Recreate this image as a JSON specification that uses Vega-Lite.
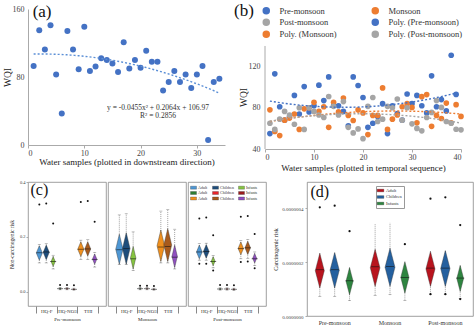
{
  "$schema": "https://vega.github.io/schema/vega-lite/v6.json",
  "background": "white",
  "padding": {"left": 2, "top": 1, "right": 2, "bottom": 1},
  "config": {
    "font": "Liberation Serif",
    "view": {"stroke": "#888888", "strokeWidth": 0.8},
    "axis": {"labelFont": "Liberation Serif", "titleFont": "Liberation Serif", "titleFontWeight": "normal", "labelColor": "#444444", "titleColor": "#222222", "domainColor": "#aaaaaa", "tickColor": "#aaaaaa", "grid": false, "labelOverlap": false},
    "legend": {"labelFont": "Liberation Serif", "labelColor": "#333333"}
  },
  "datasets": {
    "cdata": [
      {"k": "v", "season": "Pre-monsoon", "index": "HQ-F", "group": "Adult", "key": "HQ-F Adult", "mid": 0.1415, "body": 0.053, "med": 0.142, "wlo": 0.105, "whi": 0.172},
      {"k": "v", "season": "Pre-monsoon", "index": "HQ-F", "group": "Children", "key": "HQ-F Children", "mid": 0.1435, "body": 0.053, "med": 0.145, "wlo": 0.105, "whi": 0.175},
      {"k": "v", "season": "Pre-monsoon", "index": "HQ-F", "group": "Infants", "key": "HQ-F Infants", "mid": 0.11, "body": 0.036, "med": 0.11, "wlo": 0.083, "whi": 0.133},
      {"k": "v", "season": "Pre-monsoon", "index": "HQ-NO3", "group": "Adult", "key": "HQ-NO3 Adult", "mid": 0.011, "body": 0.008, "med": 0.011, "wlo": 0.007, "whi": 0.015},
      {"k": "v", "season": "Pre-monsoon", "index": "HQ-NO3", "group": "Children", "key": "HQ-NO3 Children", "mid": 0.011, "body": 0.008, "med": 0.011, "wlo": 0.007, "whi": 0.015},
      {"k": "v", "season": "Pre-monsoon", "index": "HQ-NO3", "group": "Infants", "key": "HQ-NO3 Infants", "mid": 0.009, "body": 0.007, "med": 0.009, "wlo": 0.006, "whi": 0.013},
      {"k": "v", "season": "Pre-monsoon", "index": "THI", "group": "Adult", "key": "THI Adult", "mid": 0.155, "body": 0.054, "med": 0.155, "wlo": 0.118, "whi": 0.188},
      {"k": "v", "season": "Pre-monsoon", "index": "THI", "group": "Children", "key": "THI Children", "mid": 0.156, "body": 0.052, "med": 0.156, "wlo": 0.118, "whi": 0.19},
      {"k": "v", "season": "Pre-monsoon", "index": "THI", "group": "Infants", "key": "THI Infants", "mid": 0.119, "body": 0.038, "med": 0.118, "wlo": 0.09, "whi": 0.143},
      {"k": "v", "season": "Monsoon", "index": "HQ-F", "group": "Adult", "key": "HQ-F Adult", "mid": 0.155, "body": 0.11, "med": 0.153, "wlo": 0.1, "whi": 0.28},
      {"k": "v", "season": "Monsoon", "index": "HQ-F", "group": "Children", "key": "HQ-F Children", "mid": 0.1575, "body": 0.115, "med": 0.157, "wlo": 0.1, "whi": 0.284},
      {"k": "v", "season": "Monsoon", "index": "HQ-F", "group": "Infants", "key": "HQ-F Infants", "mid": 0.124, "body": 0.082, "med": 0.12, "wlo": 0.077, "whi": 0.218},
      {"k": "v", "season": "Monsoon", "index": "HQ-NO3", "group": "Adult", "key": "HQ-NO3 Adult", "mid": 0.011, "body": 0.008, "med": 0.011, "wlo": 0.007, "whi": 0.015},
      {"k": "v", "season": "Monsoon", "index": "HQ-NO3", "group": "Children", "key": "HQ-NO3 Children", "mid": 0.011, "body": 0.008, "med": 0.011, "wlo": 0.007, "whi": 0.015},
      {"k": "v", "season": "Monsoon", "index": "HQ-NO3", "group": "Infants", "key": "HQ-NO3 Infants", "mid": 0.009, "body": 0.007, "med": 0.009, "wlo": 0.006, "whi": 0.013},
      {"k": "v", "season": "Monsoon", "index": "THI", "group": "Adult", "key": "THI Adult", "mid": 0.1675, "body": 0.115, "med": 0.163, "wlo": 0.105, "whi": 0.294},
      {"k": "v", "season": "Monsoon", "index": "THI", "group": "Children", "key": "THI Children", "mid": 0.17, "body": 0.12, "med": 0.165, "wlo": 0.105, "whi": 0.3},
      {"k": "v", "season": "Monsoon", "index": "THI", "group": "Infants", "key": "THI Infants", "mid": 0.129, "body": 0.082, "med": 0.126, "wlo": 0.083, "whi": 0.228},
      {"k": "v", "season": "Post-monsoon", "index": "HQ-F", "group": "Adult", "key": "HQ-F Adult", "mid": 0.145, "body": 0.05, "med": 0.145, "wlo": 0.115, "whi": 0.175},
      {"k": "v", "season": "Post-monsoon", "index": "HQ-F", "group": "Children", "key": "HQ-F Children", "mid": 0.147, "body": 0.05, "med": 0.147, "wlo": 0.115, "whi": 0.177},
      {"k": "v", "season": "Post-monsoon", "index": "HQ-F", "group": "Infants", "key": "HQ-F Infants", "mid": 0.1115, "body": 0.033, "med": 0.11, "wlo": 0.087, "whi": 0.132},
      {"k": "v", "season": "Post-monsoon", "index": "HQ-NO3", "group": "Adult", "key": "HQ-NO3 Adult", "mid": 0.01, "body": 0.008, "med": 0.01, "wlo": 0.006, "whi": 0.014},
      {"k": "v", "season": "Post-monsoon", "index": "HQ-NO3", "group": "Children", "key": "HQ-NO3 Children", "mid": 0.01, "body": 0.008, "med": 0.01, "wlo": 0.006, "whi": 0.014},
      {"k": "v", "season": "Post-monsoon", "index": "HQ-NO3", "group": "Infants", "key": "HQ-NO3 Infants", "mid": 0.009, "body": 0.007, "med": 0.009, "wlo": 0.005, "whi": 0.013},
      {"k": "v", "season": "Post-monsoon", "index": "THI", "group": "Adult", "key": "THI Adult", "mid": 0.158, "body": 0.047, "med": 0.157, "wlo": 0.12, "whi": 0.187},
      {"k": "v", "season": "Post-monsoon", "index": "THI", "group": "Children", "key": "THI Children", "mid": 0.16, "body": 0.048, "med": 0.16, "wlo": 0.122, "whi": 0.19},
      {"k": "v", "season": "Post-monsoon", "index": "THI", "group": "Infants", "key": "THI Infants", "mid": 0.122, "body": 0.035, "med": 0.12, "wlo": 0.095, "whi": 0.145},
      {"k": "o", "season": "Pre-monsoon", "index": "HQ-F", "group": "Adult", "val": 0.318},
      {"k": "o", "season": "Pre-monsoon", "index": "HQ-F", "group": "Children", "val": 0.322},
      {"k": "o", "season": "Pre-monsoon", "index": "HQ-F", "group": "Infants", "val": 0.249},
      {"k": "o", "season": "Pre-monsoon", "index": "HQ-NO3", "group": "Adult", "val": 0.025},
      {"k": "o", "season": "Pre-monsoon", "index": "HQ-NO3", "group": "Children", "val": 0.025},
      {"k": "o", "season": "Pre-monsoon", "index": "HQ-NO3", "group": "Infants", "val": 0.024},
      {"k": "o", "season": "Pre-monsoon", "index": "THI", "group": "Adult", "val": 0.327},
      {"k": "o", "season": "Pre-monsoon", "index": "THI", "group": "Children", "val": 0.331},
      {"k": "o", "season": "Pre-monsoon", "index": "THI", "group": "Infants", "val": 0.255},
      {"k": "o", "season": "Monsoon", "index": "HQ-NO3", "group": "Adult", "val": 0.022},
      {"k": "o", "season": "Monsoon", "index": "HQ-NO3", "group": "Children", "val": 0.022},
      {"k": "o", "season": "Monsoon", "index": "HQ-NO3", "group": "Infants", "val": 0.021},
      {"k": "o", "season": "Post-monsoon", "index": "HQ-F", "group": "Adult", "val": 0.267},
      {"k": "o", "season": "Post-monsoon", "index": "HQ-F", "group": "Adult", "val": 0.102},
      {"k": "o", "season": "Post-monsoon", "index": "HQ-F", "group": "Children", "val": 0.271},
      {"k": "o", "season": "Post-monsoon", "index": "HQ-F", "group": "Children", "val": 0.102},
      {"k": "o", "season": "Post-monsoon", "index": "HQ-F", "group": "Infants", "val": 0.206},
      {"k": "o", "season": "Post-monsoon", "index": "HQ-F", "group": "Infants", "val": 0.077},
      {"k": "o", "season": "Post-monsoon", "index": "HQ-NO3", "group": "Adult", "val": 0.025},
      {"k": "o", "season": "Post-monsoon", "index": "HQ-NO3", "group": "Children", "val": 0.025},
      {"k": "o", "season": "Post-monsoon", "index": "HQ-NO3", "group": "Infants", "val": 0.024},
      {"k": "o", "season": "Post-monsoon", "index": "THI", "group": "Adult", "val": 0.273},
      {"k": "o", "season": "Post-monsoon", "index": "THI", "group": "Adult", "val": 0.108},
      {"k": "o", "season": "Post-monsoon", "index": "THI", "group": "Children", "val": 0.276},
      {"k": "o", "season": "Post-monsoon", "index": "THI", "group": "Children", "val": 0.11},
      {"k": "o", "season": "Post-monsoon", "index": "THI", "group": "Infants", "val": 0.21},
      {"k": "o", "season": "Post-monsoon", "index": "THI", "group": "Infants", "val": 0.086},
      {"k": "t", "season": "Pre-monsoon", "index": "HQ-F", "group": "Adult", "val": 0.372, "label": "(c)"}
    ]
  },
  "spacing": 6,
  "resolve": {
    "scale": {"color": "independent", "size": "independent", "shape": "independent", "xOffset": "independent", "x": "independent", "y": "independent"},
    "legend": {"color": "independent", "size": "independent", "shape": "independent"}
  },
  "vconcat": [
    {
      "spacing": 9,
      "resolve": {
        "scale": {"color": "independent", "size": "independent", "shape": "independent", "x": "independent", "y": "independent"},
        "legend": {"color": "independent"}
      },
      "hconcat": [
        {
          "width": 197,
          "height": 136,
          "view": {"stroke": null},
          "layer": [
            {
              "data": {"name": "wqi_a", "values": [
                {"sample": 1, "WQI": 93}, {"sample": 2, "WQI": 135}, {"sample": 3, "WQI": 112.5}, {"sample": 4, "WQI": 141},
                {"sample": 5, "WQI": 83}, {"sample": 6, "WQI": 37}, {"sample": 7, "WQI": 134}, {"sample": 8, "WQI": 112.5},
                {"sample": 9, "WQI": 89}, {"sample": 10, "WQI": 139}, {"sample": 11, "WQI": 87}, {"sample": 12, "WQI": 92.5},
                {"sample": 13, "WQI": 102}, {"sample": 14, "WQI": 100}, {"sample": 15, "WQI": 96}, {"sample": 16, "WQI": 86},
                {"sample": 17, "WQI": 121}, {"sample": 18, "WQI": 90}, {"sample": 19, "WQI": 100}, {"sample": 20, "WQI": 91},
                {"sample": 21, "WQI": 111}, {"sample": 22, "WQI": 98}, {"sample": 23, "WQI": 98}, {"sample": 24, "WQI": 64},
                {"sample": 25, "WQI": 74}, {"sample": 26, "WQI": 87}, {"sample": 27, "WQI": 74}, {"sample": 28, "WQI": 83},
                {"sample": 29, "WQI": 67}, {"sample": 30, "WQI": 83}, {"sample": 31, "WQI": 93}, {"sample": 32, "WQI": 6},
                {"sample": 33, "WQI": 74}, {"sample": 34, "WQI": 78}
              ]},
              "mark": {"type": "circle", "size": 36, "color": "#4472C4", "opacity": 1},
              "encoding": {
                "x": {"field": "sample", "type": "quantitative", "scale": {"domain": [0, 35], "nice": false},
                      "axis": {"values": [0, 5, 10, 15, 20, 25, 30, 35], "labelFontSize": 8, "tickSize": 3, "labelPadding": 1, "title": "Water samples (plotted in downstream direction)", "titleFontSize": 9, "titlePadding": 0}},
                "y": {"field": "WQI", "type": "quantitative", "scale": {"domain": [0, 160], "nice": false},
                      "axis": {"values": [0, 20, 40, 60, 80, 100, 120, 140, 160], "labelFontSize": 8, "tickSize": 0, "labelPadding": 4, "title": "WQI", "titleFontSize": 9.5, "titlePadding": 0}}
              }
            },
            {
              "data": {"name": "wqi_a"},
              "transform": [{"regression": "WQI", "on": "sample", "method": "poly", "order": 2}],
              "mark": {"type": "line", "color": "#5B8FD6", "strokeDash": [2, 2], "strokeWidth": 1.4},
              "encoding": {
                "x": {"field": "sample", "type": "quantitative"},
                "y": {"field": "WQI", "type": "quantitative"}
              }
            },
            {
              "data": {"values": [
                {"sample": 23.1, "WQI": 43.5, "label": "y = -0.0455x² + 0.2064x + 106.97"},
                {"sample": 23.1, "WQI": 34.5, "label": "R² = 0.2856"}
              ]},
              "mark": {"type": "text", "fontSize": 7.5, "color": "#333333", "align": "center", "baseline": "middle"},
              "encoding": {
                "x": {"field": "sample", "type": "quantitative"},
                "y": {"field": "WQI", "type": "quantitative"},
                "text": {"field": "label"}
              }
            },
            {
              "data": {"values": [{"sample": 2.5, "WQI": 157, "label": "(a)"}]},
              "mark": {"type": "text", "fontSize": 17, "color": "#111111", "align": "center", "baseline": "middle"},
              "encoding": {
                "x": {"field": "sample", "type": "quantitative"},
                "y": {"field": "WQI", "type": "quantitative"},
                "text": {"field": "label"}
              }
            }
          ]
        },
        {
          "width": 196,
          "height": 140,
          "view": {"stroke": null},
          "layer": [
            {
              "data": {"name": "wqi_b", "values": [
                {"sample": 1, "WQI": 55, "series": "Pre-monsoon"}, {"sample": 2, "WQI": 113, "series": "Pre-monsoon"}, {"sample": 3, "WQI": 81, "series": "Pre-monsoon"}, {"sample": 4, "WQI": 68, "series": "Pre-monsoon"},
                {"sample": 5, "WQI": 71, "series": "Pre-monsoon"}, {"sample": 6, "WQI": 92, "series": "Pre-monsoon"}, {"sample": 7, "WQI": 74, "series": "Pre-monsoon"}, {"sample": 8, "WQI": 100.6, "series": "Pre-monsoon"},
                {"sample": 9, "WQI": 76, "series": "Pre-monsoon"}, {"sample": 10, "WQI": 82, "series": "Pre-monsoon"}, {"sample": 11, "WQI": 102, "series": "Pre-monsoon"}, {"sample": 12, "WQI": 87, "series": "Pre-monsoon"},
                {"sample": 13, "WQI": 110, "series": "Pre-monsoon"}, {"sample": 14, "WQI": 82, "series": "Pre-monsoon"}, {"sample": 15, "WQI": 82, "series": "Pre-monsoon"}, {"sample": 16, "WQI": 76.5, "series": "Pre-monsoon"},
                {"sample": 17, "WQI": 62.5, "series": "Pre-monsoon"}, {"sample": 18, "WQI": 110, "series": "Pre-monsoon"}, {"sample": 19, "WQI": 101.6, "series": "Pre-monsoon"}, {"sample": 20, "WQI": 90, "series": "Pre-monsoon"},
                {"sample": 21, "WQI": 61, "series": "Pre-monsoon"}, {"sample": 22, "WQI": 65, "series": "Pre-monsoon"}, {"sample": 23, "WQI": 71.6, "series": "Pre-monsoon"}, {"sample": 24, "WQI": 84, "series": "Pre-monsoon"},
                {"sample": 25, "WQI": 55, "series": "Pre-monsoon"}, {"sample": 26, "WQI": 82, "series": "Pre-monsoon"}, {"sample": 27, "WQI": 74.5, "series": "Pre-monsoon"}, {"sample": 28, "WQI": 68, "series": "Pre-monsoon"},
                {"sample": 29, "WQI": 93.4, "series": "Pre-monsoon"}, {"sample": 30, "WQI": 84, "series": "Pre-monsoon"}, {"sample": 31, "WQI": 92, "series": "Pre-monsoon"}, {"sample": 32, "WQI": 82, "series": "Pre-monsoon"},
                {"sample": 33, "WQI": 75, "series": "Pre-monsoon"}, {"sample": 34, "WQI": 111, "series": "Pre-monsoon"}, {"sample": 35, "WQI": 81, "series": "Pre-monsoon"}, {"sample": 36, "WQI": 88, "series": "Pre-monsoon"},
                {"sample": 37, "WQI": 77, "series": "Pre-monsoon"}, {"sample": 38, "WQI": 131, "series": "Pre-monsoon"}, {"sample": 39, "WQI": 93, "series": "Pre-monsoon"},
                {"sample": 1, "WQI": 78, "series": "Monsoon"}, {"sample": 2, "WQI": 57, "series": "Monsoon"}, {"sample": 3, "WQI": 53, "series": "Monsoon"}, {"sample": 4, "WQI": 68, "series": "Monsoon"},
                {"sample": 5, "WQI": 70, "series": "Monsoon"}, {"sample": 6, "WQI": 74, "series": "Monsoon"}, {"sample": 7, "WQI": 59, "series": "Monsoon"}, {"sample": 8, "WQI": 79, "series": "Monsoon"},
                {"sample": 9, "WQI": 80, "series": "Monsoon"}, {"sample": 10, "WQI": 85.3, "series": "Monsoon"}, {"sample": 11, "WQI": 76.5, "series": "Monsoon"}, {"sample": 12, "WQI": 81, "series": "Monsoon"},
                {"sample": 13, "WQI": 61, "series": "Monsoon"}, {"sample": 14, "WQI": 85.3, "series": "Monsoon"}, {"sample": 15, "WQI": 76, "series": "Monsoon"}, {"sample": 16, "WQI": 89.5, "series": "Monsoon"},
                {"sample": 17, "WQI": 72.6, "series": "Monsoon"}, {"sample": 18, "WQI": 67.7, "series": "Monsoon"}, {"sample": 19, "WQI": 78, "series": "Monsoon"}, {"sample": 20, "WQI": 75, "series": "Monsoon"},
                {"sample": 21, "WQI": 54, "series": "Monsoon"}, {"sample": 22, "WQI": 72.6, "series": "Monsoon"}, {"sample": 23, "WQI": 72.6, "series": "Monsoon"}, {"sample": 24, "WQI": 99.3, "series": "Monsoon"},
                {"sample": 25, "WQI": 59, "series": "Monsoon"}, {"sample": 26, "WQI": 69, "series": "Monsoon"}, {"sample": 27, "WQI": 73, "series": "Monsoon"}, {"sample": 28, "WQI": 81, "series": "Monsoon"},
                {"sample": 29, "WQI": 84, "series": "Monsoon"}, {"sample": 30, "WQI": 80.4, "series": "Monsoon"}, {"sample": 31, "WQI": 65.4, "series": "Monsoon"}, {"sample": 32, "WQI": 90.8, "series": "Monsoon"},
                {"sample": 33, "WQI": 92.8, "series": "Monsoon"}, {"sample": 34, "WQI": 62, "series": "Monsoon"}, {"sample": 35, "WQI": 72.6, "series": "Monsoon"}, {"sample": 36, "WQI": 69.6, "series": "Monsoon"},
                {"sample": 37, "WQI": 84.6, "series": "Monsoon"}, {"sample": 38, "WQI": 65.5, "series": "Monsoon"}, {"sample": 39, "WQI": 83, "series": "Monsoon"}, {"sample": 40, "WQI": 71.6, "series": "Monsoon"},
                {"sample": 1, "WQI": 65, "series": "Post-monsoon"}, {"sample": 2, "WQI": 59, "series": "Post-monsoon"}, {"sample": 3, "WQI": 69, "series": "Post-monsoon"}, {"sample": 4, "WQI": 76.5, "series": "Post-monsoon"},
                {"sample": 5, "WQI": 73, "series": "Post-monsoon"}, {"sample": 6, "WQI": 64, "series": "Post-monsoon"}, {"sample": 7, "WQI": 80, "series": "Post-monsoon"}, {"sample": 8, "WQI": 59, "series": "Post-monsoon"},
                {"sample": 9, "WQI": 80, "series": "Post-monsoon"}, {"sample": 10, "WQI": 76.5, "series": "Post-monsoon"}, {"sample": 11, "WQI": 73, "series": "Post-monsoon"}, {"sample": 12, "WQI": 70.6, "series": "Post-monsoon"},
                {"sample": 13, "WQI": 91, "series": "Post-monsoon"}, {"sample": 14, "WQI": 81.4, "series": "Post-monsoon"}, {"sample": 15, "WQI": 73, "series": "Post-monsoon"}, {"sample": 16, "WQI": 86, "series": "Post-monsoon"},
                {"sample": 17, "WQI": 61, "series": "Post-monsoon"}, {"sample": 18, "WQI": 55.6, "series": "Post-monsoon"}, {"sample": 19, "WQI": 59.5, "series": "Post-monsoon"}, {"sample": 20, "WQI": 50, "series": "Post-monsoon"},
                {"sample": 21, "WQI": 81.4, "series": "Post-monsoon"}, {"sample": 22, "WQI": 90, "series": "Post-monsoon"}, {"sample": 23, "WQI": 66.7, "series": "Post-monsoon"}, {"sample": 24, "WQI": 69, "series": "Post-monsoon"},
                {"sample": 25, "WQI": 81.4, "series": "Post-monsoon"}, {"sample": 26, "WQI": 80, "series": "Post-monsoon"}, {"sample": 27, "WQI": 88.5, "series": "Post-monsoon"}, {"sample": 28, "WQI": 68, "series": "Post-monsoon"},
                {"sample": 29, "WQI": 80, "series": "Post-monsoon"}, {"sample": 30, "WQI": 64.4, "series": "Post-monsoon"}, {"sample": 31, "WQI": 60, "series": "Post-monsoon"}, {"sample": 32, "WQI": 57.6, "series": "Post-monsoon"},
                {"sample": 33, "WQI": 70.6, "series": "Post-monsoon"}, {"sample": 34, "WQI": 75.5, "series": "Post-monsoon"}, {"sample": 35, "WQI": 87, "series": "Post-monsoon"}, {"sample": 36, "WQI": 80.4, "series": "Post-monsoon"},
                {"sample": 37, "WQI": 66.7, "series": "Post-monsoon"}, {"sample": 38, "WQI": 65, "series": "Post-monsoon"}, {"sample": 39, "WQI": 59.2, "series": "Post-monsoon"}, {"sample": 40, "WQI": 58.6, "series": "Post-monsoon"}
              ]},
              "mark": {"type": "circle", "size": 32, "opacity": 1},
              "encoding": {
                "x": {"field": "sample", "type": "quantitative", "scale": {"domain": [0, 40], "nice": false},
                      "axis": {"values": [0, 10, 20, 30, 40], "labelFontSize": 8, "tickSize": 3, "labelPadding": 1, "title": "Water samples (plotted in temporal sequence)", "titleFontSize": 9, "titlePadding": 2}},
                "y": {"field": "WQI", "type": "quantitative", "scale": {"domain": [40, 175.9], "nice": false, "zero": false},
                      "axis": {"values": [40, 60, 80, 100, 120, 140], "labelFontSize": 8, "tickSize": 0, "labelPadding": 5, "domain": false, "title": "WQI", "titleFontSize": 9.5, "titlePadding": 0, "titleY": 88}},
                "color": {
                  "field": "series", "type": "nominal",
                  "scale": {
                    "domain": ["Pre-monsoon", "Monsoon", "Post-monsoon", "Poly. (Pre-monsoon)", "Poly. (Monsoon)", "Poly. (Post-monsoon)"],
                    "range": ["#4472C4", "#ED7D31", "#A5A5A5", "#4472C4", "#ED7D31", "#A5A5A5"]
                  },
                  "legend": {
                    "title": null, "orient": "top-left", "offset": -3, "direction": "horizontal", "columns": 2,
                    "labelFontSize": 8.5, "labelLimit": 200, "symbolSize": 36, "labelOffset": 9,
                    "columnPadding": 32, "rowPadding": -1, "padding": 0,
                    "encode": {"symbols": {"update": {
                      "shape": {"signal": "indexof(datum.value, 'Poly') === 0 ? 'M-3,0L3,0' : 'circle'"},
                      "fill": {"signal": "indexof(datum.value, 'Poly') === 0 ? 'transparent' : (indexof(datum.value, 'Pre') >= 0 ? '#4472C4' : (indexof(datum.value, 'Post') >= 0 ? '#A5A5A5' : '#ED7D31'))"},
                      "stroke": {"signal": "indexof(datum.value, 'Pre') >= 0 ? '#4472C4' : (indexof(datum.value, 'Post') >= 0 ? '#A5A5A5' : '#ED7D31')"},
                      "strokeWidth": {"signal": "indexof(datum.value, 'Poly') === 0 ? 1.4 : 0"},
                      "strokeDash": {"signal": "indexof(datum.value, 'Poly') === 0 ? [2, 2] : [1, 0]"},
                      "opacity": {"value": 1}
                    }}}
                  }
                }
              }
            },
            {
              "data": {"name": "wqi_b"},
              "transform": [{"regression": "WQI", "on": "sample", "groupby": ["series"], "method": "poly", "order": 2}],
              "mark": {"type": "line", "strokeDash": [2, 2], "strokeWidth": 1.4},
              "encoding": {
                "x": {"field": "sample", "type": "quantitative"},
                "y": {"field": "WQI", "type": "quantitative"},
                "color": {"field": "series", "type": "nominal"}
              }
            },
            {
              "data": {"values": [{"sample": 0, "lo": 40, "hi": 140}]},
              "mark": {"type": "rule", "color": "#aaaaaa", "strokeWidth": 1},
              "encoding": {
                "x": {"field": "sample", "type": "quantitative"},
                "y": {"field": "lo", "type": "quantitative"},
                "y2": {"field": "hi"}
              }
            },
            {
              "data": {"values": [{"sample": -4.3, "WQI": 174, "label": "(b)"}]},
              "mark": {"type": "text", "fontSize": 17, "color": "#111111", "align": "center", "baseline": "middle"},
              "encoding": {
                "x": {"field": "sample", "type": "quantitative"},
                "y": {"field": "WQI", "type": "quantitative"},
                "text": {"field": "label"}
              }
            }
          ]
        }
      ]
    },
    {
      "spacing": 5,
      "resolve": {
        "scale": {"color": "independent", "size": "independent", "shape": "independent", "xOffset": "independent", "x": "independent", "y": "independent"},
        "legend": {"color": "independent", "size": "independent", "shape": "independent"}
      },
      "hconcat": [
        {
          "spacing": 0,
          "resolve": {
            "scale": {"color": "shared", "size": "shared", "shape": "shared", "xOffset": "independent", "x": "independent", "y": "independent"},
            "legend": {"color": "independent"}
          },
          "hconcat": [
            {
              "width": 78,
              "height": 124,
              "data": {"name": "cdata"},
              "transform": [{"filter": {"field": "season", "equal": "Pre-monsoon"}}],
              "encoding": {
                "x": {"field": "index", "type": "nominal", "sort": ["HQ-F", "HQ-NO3", "THI"], "title": "Pre-monsoon",
                      "scale": {"paddingInner": 0, "paddingOuter": 0.38},
                      "axis": {"labelAngle": 0, "labelFontSize": 5, "labelPadding": -5, "tickBand": "extent", "tickSize": 7, "tickColor": "#888888", "domain": false, "labelColor": "#333333", "titleFontSize": 5, "titlePadding": 3}},
                "xOffset": {"field": "group", "type": "nominal", "sort": ["Adult", "Children", "Infants"], "scale": {"paddingInner": 0, "paddingOuter": 0}}
              },
              "layer": [
                {
                  "transform": [{"filter": {"field": "k", "equal": "v"}}],
                  "mark": {"type": "rule", "color": "#888888", "strokeDash": [1, 1], "strokeWidth": 0.8},
                  "encoding": {
                    "y": {"field": "wlo", "type": "quantitative", "title": "Non-carcinogenic risk",
                          "scale": {"domain": [-0.052, 0.4], "nice": false, "zero": false},
                          "axis": {"values": [0, 0.1, 0.2, 0.3, 0.4], "format": ".1f", "labelFontSize": 4.5, "tickSize": 2, "labelPadding": 1, "domain": false, "titleFontSize": 5.5, "titlePadding": 2, "titleX": -14}},
                    "y2": {"field": "whi"}
                  }
                },
                {"transform": [{"filter": {"field": "k", "equal": "v"}}], "mark": {"type": "tick", "color": "#666666", "thickness": 0.6, "size": 3}, "encoding": {"y": {"field": "whi", "type": "quantitative"}}},
                {"transform": [{"filter": {"field": "k", "equal": "v"}}], "mark": {"type": "tick", "color": "#666666", "thickness": 0.6, "size": 3}, "encoding": {"y": {"field": "wlo", "type": "quantitative"}}},
                {
                  "transform": [{"filter": {"field": "k", "equal": "v"}}],
                  "mark": {"type": "point", "filled": true, "opacity": 1, "stroke": "#333333", "strokeWidth": 0.4},
                  "encoding": {
                    "y": {"field": "mid", "type": "quantitative"},
                    "size": {"field": "body", "type": "quantitative", "legend": null, "scale": {"type": "pow", "exponent": 2, "domain": [0, 0.2], "range": [0, 3010]}},
                    "shape": {"value": "M0,-1L0.42,0L0,1L-0.42,0Z"},
                    "color": {"field": "key", "type": "nominal", "legend": null,
                              "scale": {"domain": ["HQ-F Adult", "HQ-F Children", "HQ-F Infants", "HQ-NO3 Adult", "HQ-NO3 Children", "HQ-NO3 Infants", "THI Adult", "THI Children", "THI Infants"],
                                        "range": ["#4E97D4", "#1E4D7B", "#86C440", "#2E7D32", "#E8262B", "#9B1B1B", "#F0901E", "#A85A1C", "#9050C0"]}}
                  }
                },
                {"transform": [{"filter": {"field": "k", "equal": "v"}}], "mark": {"type": "tick", "color": "#111111", "thickness": 0.8, "size": 6}, "encoding": {"y": {"field": "med", "type": "quantitative"}}},
                {"transform": [{"filter": {"field": "k", "equal": "o"}}], "mark": {"type": "circle", "color": "#111111", "size": 4, "opacity": 1}, "encoding": {"y": {"field": "val", "type": "quantitative"}}},
                {"transform": [{"filter": {"field": "k", "equal": "t"}}], "mark": {"type": "text", "fontSize": 16, "color": "#111111", "align": "center", "baseline": "middle"}, "encoding": {"y": {"field": "val", "type": "quantitative"}, "text": {"field": "label"}}}
              ]
            },
            {
              "width": 78,
              "height": 124,
              "data": {"name": "cdata"},
              "transform": [{"filter": {"field": "season", "equal": "Monsoon"}}],
              "encoding": {
                "x": {"field": "index", "type": "nominal", "sort": ["HQ-F", "HQ-NO3", "THI"], "title": "Monsoon",
                      "scale": {"paddingInner": 0, "paddingOuter": 0.38},
                      "axis": {"labelAngle": 0, "labelFontSize": 5, "labelPadding": -5, "tickBand": "extent", "tickSize": 7, "tickColor": "#888888", "domain": false, "labelColor": "#333333", "titleFontSize": 5, "titlePadding": 3}},
                "xOffset": {"field": "group", "type": "nominal", "sort": ["Adult", "Children", "Infants"], "scale": {"paddingInner": 0, "paddingOuter": 0}}
              },
              "layer": [
                {
                  "transform": [{"filter": {"field": "k", "equal": "v"}}],
                  "mark": {"type": "rule", "color": "#888888", "strokeDash": [1, 1], "strokeWidth": 0.8},
                  "encoding": {
                    "y": {"field": "wlo", "type": "quantitative", "axis": null, "scale": {"domain": [-0.052, 0.4], "nice": false, "zero": false}},
                    "y2": {"field": "whi"}
                  }
                },
                {"transform": [{"filter": {"field": "k", "equal": "v"}}], "mark": {"type": "tick", "color": "#666666", "thickness": 0.6, "size": 3}, "encoding": {"y": {"field": "whi", "type": "quantitative", "axis": null}}},
                {"transform": [{"filter": {"field": "k", "equal": "v"}}], "mark": {"type": "tick", "color": "#666666", "thickness": 0.6, "size": 3}, "encoding": {"y": {"field": "wlo", "type": "quantitative", "axis": null}}},
                {
                  "transform": [{"filter": {"field": "k", "equal": "v"}}],
                  "mark": {"type": "point", "filled": true, "opacity": 1, "stroke": "#333333", "strokeWidth": 0.4},
                  "encoding": {
                    "y": {"field": "mid", "type": "quantitative", "axis": null},
                    "size": {"field": "body", "type": "quantitative", "legend": null, "scale": {"type": "pow", "exponent": 2, "domain": [0, 0.2], "range": [0, 3010]}},
                    "shape": {"value": "M0,-1L0.24,0L0,1L-0.24,0Z"},
                    "color": {"field": "key", "type": "nominal", "legend": null}
                  }
                },
                {"transform": [{"filter": {"field": "k", "equal": "v"}}], "mark": {"type": "tick", "color": "#111111", "thickness": 0.8, "size": 6}, "encoding": {"y": {"field": "med", "type": "quantitative", "axis": null}}},
                {"transform": [{"filter": {"field": "k", "equal": "o"}}], "mark": {"type": "circle", "color": "#111111", "size": 4, "opacity": 1}, "encoding": {"y": {"field": "val", "type": "quantitative", "axis": null}}}
              ]
            },
            {
              "width": 78,
              "height": 124,
              "data": {"name": "cdata"},
              "transform": [{"filter": {"field": "season", "equal": "Post-monsoon"}}],
              "encoding": {
                "x": {"field": "index", "type": "nominal", "sort": ["HQ-F", "HQ-NO3", "THI"], "title": "Post-monsoon",
                      "scale": {"paddingInner": 0, "paddingOuter": 0.38},
                      "axis": {"labelAngle": 0, "labelFontSize": 5, "labelPadding": -5, "tickBand": "extent", "tickSize": 7, "tickColor": "#888888", "domain": false, "labelColor": "#333333", "titleFontSize": 5, "titlePadding": 3}},
                "xOffset": {"field": "group", "type": "nominal", "sort": ["Adult", "Children", "Infants"], "scale": {"paddingInner": 0, "paddingOuter": 0}}
              },
              "layer": [
                {
                  "transform": [{"filter": {"field": "k", "equal": "v"}}],
                  "mark": {"type": "rule", "color": "#888888", "strokeDash": [1, 1], "strokeWidth": 0.8},
                  "encoding": {
                    "y": {"field": "wlo", "type": "quantitative", "axis": null, "scale": {"domain": [-0.052, 0.4], "nice": false, "zero": false}},
                    "y2": {"field": "whi"}
                  }
                },
                {"transform": [{"filter": {"field": "k", "equal": "v"}}], "mark": {"type": "tick", "color": "#666666", "thickness": 0.6, "size": 3}, "encoding": {"y": {"field": "whi", "type": "quantitative", "axis": null}}},
                {"transform": [{"filter": {"field": "k", "equal": "v"}}], "mark": {"type": "tick", "color": "#666666", "thickness": 0.6, "size": 3}, "encoding": {"y": {"field": "wlo", "type": "quantitative", "axis": null}}},
                {
                  "transform": [{"filter": {"field": "k", "equal": "v"}}],
                  "mark": {"type": "point", "filled": true, "opacity": 1, "stroke": "#333333", "strokeWidth": 0.4},
                  "encoding": {
                    "y": {"field": "mid", "type": "quantitative", "axis": null},
                    "size": {"field": "body", "type": "quantitative", "legend": null, "scale": {"type": "pow", "exponent": 2, "domain": [0, 0.2], "range": [0, 3010]}},
                    "shape": {"value": "M0,-1L0.42,0L0,1L-0.42,0Z"},
                    "color": {"field": "key", "type": "nominal",
                              "legend": {"orient": "top-left", "offset": 3, "direction": "horizontal", "columns": 3, "title": null,
                                         "labelExpr": "split(datum.label, ' ')[1]", "labelFontSize": 4, "labelOffset": 2,
                                         "symbolType": "M-1.5,-0.75H1.5V0.75H-1.5Z", "symbolSize": 16, "symbolStrokeWidth": 0.3,
                                         "rowPadding": 0.5, "columnPadding": 3, "padding": 0}}
                  }
                },
                {"transform": [{"filter": {"field": "k", "equal": "v"}}], "mark": {"type": "tick", "color": "#111111", "thickness": 0.8, "size": 6}, "encoding": {"y": {"field": "med", "type": "quantitative", "axis": null}}},
                {"transform": [{"filter": {"field": "k", "equal": "o"}}], "mark": {"type": "circle", "color": "#111111", "size": 4, "opacity": 1}, "encoding": {"y": {"field": "val", "type": "quantitative", "axis": null}}}
              ]
            }
          ]
        },
        {
          "width": 166,
          "height": 134,
          "data": {"values": [
            {"k": "v", "season": "Pre-monsoon", "group": "Adult", "mid": 1.685e-7, "body": 1.29e-7, "med": 1.72e-7, "wlo": 0.73e-7, "whi": 2.33e-7},
            {"k": "v", "season": "Pre-monsoon", "group": "Children", "mid": 1.70e-7, "body": 1.32e-7, "med": 1.72e-7, "wlo": 0.73e-7, "whi": 2.36e-7},
            {"k": "v", "season": "Pre-monsoon", "group": "Infants", "mid": 1.295e-7, "body": 1.01e-7, "med": 1.31e-7, "wlo": 0.57e-7, "whi": 1.8e-7},
            {"k": "v", "season": "Monsoon", "group": "Adult", "mid": 1.79e-7, "body": 1.38e-7, "med": 1.83e-7, "wlo": 0.77e-7, "whi": 3.44e-7},
            {"k": "v", "season": "Monsoon", "group": "Children", "mid": 1.81e-7, "body": 1.42e-7, "med": 1.84e-7, "wlo": 0.79e-7, "whi": 3.47e-7},
            {"k": "v", "season": "Monsoon", "group": "Infants", "mid": 1.435e-7, "body": 1.17e-7, "med": 1.43e-7, "wlo": 0.58e-7, "whi": 2.0e-7},
            {"k": "v", "season": "Post-monsoon", "group": "Adult", "mid": 1.75e-7, "body": 1.3e-7, "med": 1.78e-7, "wlo": 0.81e-7, "whi": 2.4e-7},
            {"k": "v", "season": "Post-monsoon", "group": "Children", "mid": 1.765e-7, "body": 1.33e-7, "med": 1.78e-7, "wlo": 0.81e-7, "whi": 2.43e-7},
            {"k": "v", "season": "Post-monsoon", "group": "Infants", "mid": 1.395e-7, "body": 0.97e-7, "med": 1.41e-7, "wlo": 0.64e-7, "whi": 1.88e-7},
            {"k": "o", "season": "Pre-monsoon", "group": "Adult", "val": 4.04e-7},
            {"k": "o", "season": "Pre-monsoon", "group": "Children", "val": 4.1e-7},
            {"k": "o", "season": "Pre-monsoon", "group": "Infants", "val": 3.15e-7},
            {"k": "o", "season": "Monsoon", "group": "Infants", "val": 2.67e-7},
            {"k": "o", "season": "Post-monsoon", "group": "Adult", "val": 4.36e-7},
            {"k": "o", "season": "Post-monsoon", "group": "Adult", "val": 0.81e-7},
            {"k": "o", "season": "Post-monsoon", "group": "Children", "val": 4.41e-7},
            {"k": "o", "season": "Post-monsoon", "group": "Children", "val": 0.81e-7},
            {"k": "o", "season": "Post-monsoon", "group": "Infants", "val": 3.38e-7},
            {"k": "o", "season": "Post-monsoon", "group": "Infants", "val": 0.63e-7},
            {"k": "t", "season": "Pre-monsoon", "group": "Adult", "val": 4.62e-7, "label": "(d)"}
          ]},
          "encoding": {
            "x": {"field": "season", "type": "nominal", "sort": ["Pre-monsoon", "Monsoon", "Post-monsoon"], "title": null,
                  "scale": {"paddingInner": 0, "paddingOuter": 0},
                  "axis": {"labelAngle": 0, "labelFontSize": 6, "labelPadding": 3, "ticks": false, "domain": false, "labelColor": "#333333"}},
            "xOffset": {"field": "group", "type": "nominal", "sort": ["Adult", "Children", "Infants"], "scale": {"paddingInner": 0, "paddingOuter": 0.36}}
          },
          "layer": [
            {
              "transform": [{"filter": {"field": "k", "equal": "v"}}],
              "mark": {"type": "rule", "color": "#888888", "strokeDash": [1, 1], "strokeWidth": 0.8},
              "encoding": {
                "y": {"field": "wlo", "type": "quantitative", "title": "Carcinogenic risk",
                      "scale": {"domain": [0, 4.98e-7], "nice": false},
                      "axis": {"values": [0, 2e-7, 4e-7], "format": ".7f", "labelFontSize": 5, "tickSize": 2, "labelPadding": 2, "domain": false, "titleFontSize": 6, "titlePadding": 3}},
                "y2": {"field": "whi"}
              }
            },
            {"transform": [{"filter": {"field": "k", "equal": "v"}}], "mark": {"type": "tick", "color": "#666666", "thickness": 0.6, "size": 3}, "encoding": {"y": {"field": "wlo", "type": "quantitative"}}},
            {
              "transform": [{"filter": {"field": "k", "equal": "v"}}],
              "mark": {"type": "point", "filled": true, "opacity": 1, "stroke": "#333333", "strokeWidth": 0.4},
              "encoding": {
                "y": {"field": "mid", "type": "quantitative"},
                "size": {"field": "body", "type": "quantitative", "legend": null, "scale": {"type": "pow", "exponent": 2, "domain": [0, 2e-7], "range": [0, 2900]}},
                "shape": {"value": "M0,-1L0.26,0L0,1L-0.26,0Z"},
                "color": {"field": "group", "type": "nominal",
                          "scale": {"domain": ["Adult", "Children", "Infants"], "range": ["#B8141E", "#24609F", "#2E8540"]},
                          "legend": {"orient": "none", "legendX": 69, "legendY": 4, "title": null, "labelFontSize": 4.5, "labelOffset": 3,
                                     "symbolType": "M-1.5,-0.6H1.5V0.6H-1.5Z", "symbolSize": 20, "symbolStrokeWidth": 0.3,
                                     "rowPadding": 0.5, "padding": 2, "strokeColor": "#999999"}}
              }
            },
            {"transform": [{"filter": {"field": "k", "equal": "v"}}], "mark": {"type": "tick", "color": "#111111", "thickness": 0.8, "size": 8}, "encoding": {"y": {"field": "med", "type": "quantitative"}}},
            {"transform": [{"filter": {"field": "k", "equal": "o"}}], "mark": {"type": "circle", "color": "#111111", "size": 5, "opacity": 1}, "encoding": {"y": {"field": "val", "type": "quantitative"}}},
            {"transform": [{"filter": {"field": "k", "equal": "t"}}], "mark": {"type": "text", "fontSize": 16, "color": "#111111", "align": "center", "baseline": "middle"}, "encoding": {"y": {"field": "val", "type": "quantitative"}, "text": {"field": "label"}}}
          ]
        }
      ]
    }
  ]
}
